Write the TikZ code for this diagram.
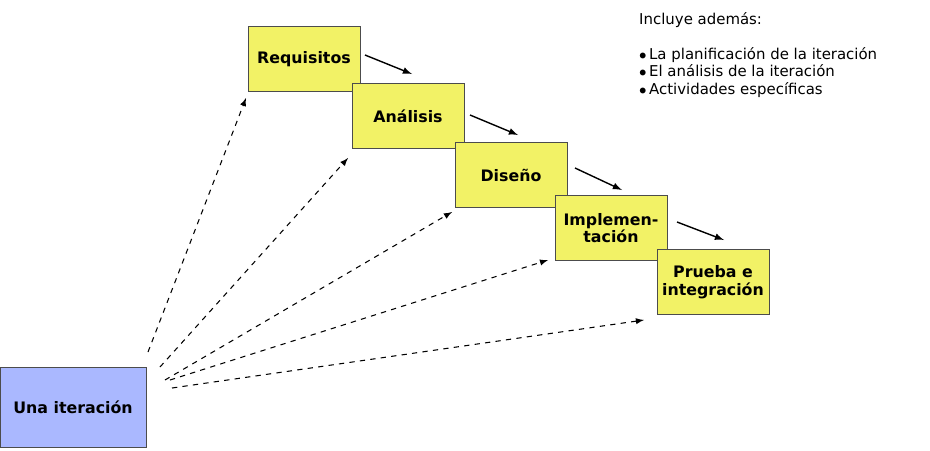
\documentclass[tikz,border=0pt]{standalone}
\usepackage{fontspec}
\setmainfont{DejaVu Sans}
\usetikzlibrary{positioning}
\definecolor{fase}{HTML}{F2F266}
\definecolor{iter}{HTML}{AAB8FF}
\tikzset{
  fase/.style={rectangle, draw=black!70, fill=fase, minimum width=2.24cm, minimum height=1.3cm,
    font=\fontsize{9}{10}\selectfont\bfseries, align=center, inner sep=1pt},
  paso/.style={->, >=latex, thick},
  enlace/.style={->, >=latex, dashed, semithick}
}
\begin{document}
\begin{tikzpicture}[x=0.02cm, y=-0.02cm]
  \useasboundingbox (0,0) rectangle (930,450);

  % Fases de la iteracion
  \node[fase] (req) at (304,59) {Requisitos};
  \node[fase] (ana) at (408,116) {Análisis};
  \node[fase] (dis) at (511,175) {Diseño};
  \node[fase] (imp) at (611,228) {Implemen-\\tación};
  \node[fase] (pru) at (713,282) {Prueba e\\integración};
  \node[fase, fill=iter, minimum width=2.92cm, minimum height=1.6cm] (una) at (73,407) {Una iteración};

  % Nota
  \node[font=\fontsize{8.5}{10}\selectfont, align=left, anchor=north west] (nota) at (633,6)
    {Incluye además:\\[10pt]
     $\bullet$\,La planificación de la iteración\\
     $\bullet$\,El análisis de la iteración\\
     $\bullet$\,Actividades específicas};

  % Flechas entre fases
  \coordinate (p1a) at (365,55);  \coordinate (p1b) at (412,74);
  \coordinate (p2a) at (470,115); \coordinate (p2b) at (518,135);
  \coordinate (p3a) at (575,168); \coordinate (p3b) at (622,190);
  \coordinate (p4a) at (677,222); \coordinate (p4b) at (724,240);
  \draw[paso] (p1a) -- (p1b);
  \draw[paso] (p2a) -- (p2b);
  \draw[paso] (p3a) -- (p3b);
  \draw[paso] (p4a) -- (p4b);

  % Enlaces desde la iteracion
  \coordinate (e1) at (148,352); \coordinate (f1) at (246,98);
  \coordinate (e2) at (160,367); \coordinate (f2) at (348,158);
  \coordinate (e3) at (165,380); \coordinate (f3) at (452,212);
  \coordinate (e4) at (170,380); \coordinate (f4) at (548,260);
  \coordinate (e5) at (172,388); \coordinate (f5) at (644,320);
  \draw[enlace] (e1) -- (f1);
  \draw[enlace] (e2) -- (f2);
  \draw[enlace] (e3) -- (f3);
  \draw[enlace] (e4) -- (f4);
  \draw[enlace] (e5) -- (f5);
\end{tikzpicture}
\end{document}
